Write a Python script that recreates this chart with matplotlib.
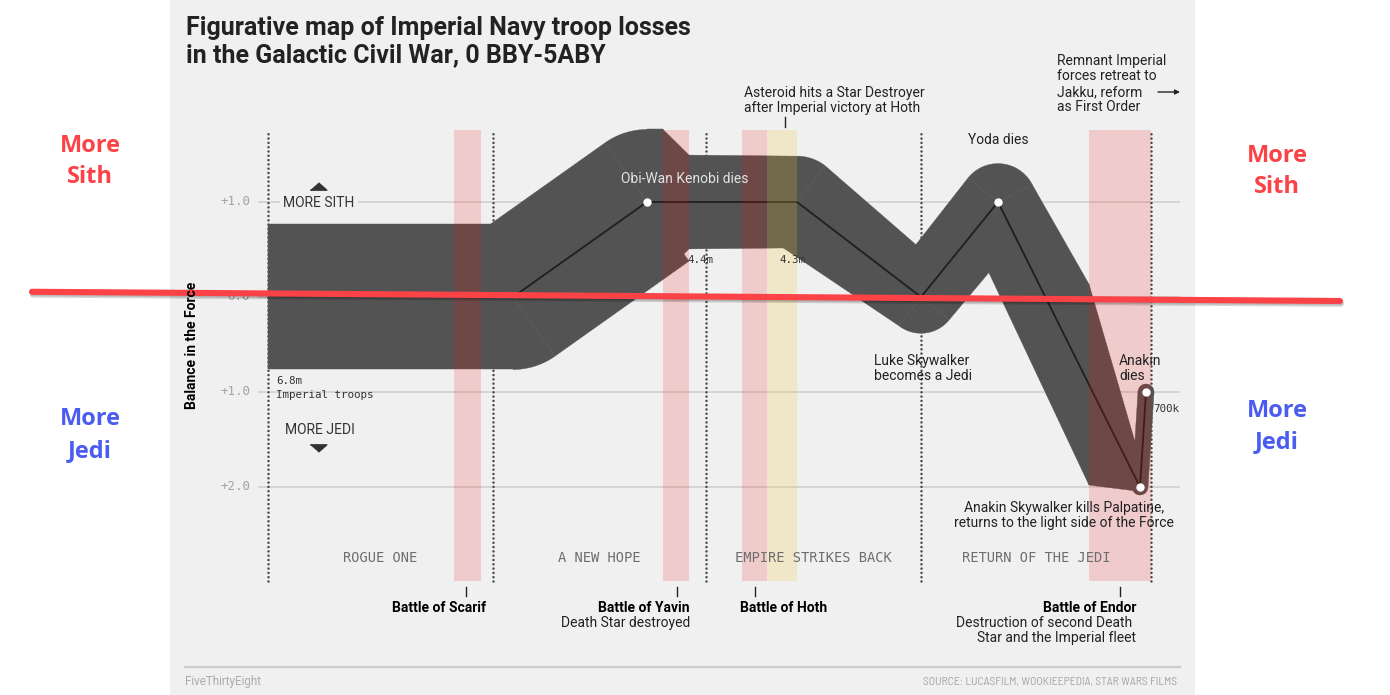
import numpy as np
import matplotlib
matplotlib.use("Agg")
import matplotlib.pyplot as plt
import matplotlib.patheffects as pe
from matplotlib.patches import Polygon
from matplotlib.transforms import Affine2D

# ------------------------------------------------------------------ data
films = ["ROGUE ONE", "A NEW HOPE", "EMPIRE STRIKES BACK", "RETURN OF THE JEDI"]
film_bounds = [0.0, 22.5, 43.8, 65.3, 88.3]          # story-time units

battle_names = ["Battle of Scarif", "Battle of Yavin", "Battle of Hoth", "Battle of Endor"]
battle_start = [18.6, 39.5, 47.4, 82.1]
battle_end = [21.3, 42.1, 49.9, 88.3]
battle_mark = [19.8, 40.9, 48.7, 85.2]
asteroid_span = [49.9, 52.9]

# path of the Imperial Navy (balance in the Force: + = more Sith)
path_x = [0.0, 24.5, 37.9, 39.5, 42.1, 52.9, 65.3, 73.0, 82.1, 87.2, 87.8]
path_y = [0.0, 0.0, 1.0, 1.0, 1.0, 1.0, 0.0, 1.0, -0.9225, -2.0, -1.0]
troops_m = [6.8, 6.8, 6.8, 6.8, 4.4, 4.3, 3.4, 3.6, 4.2, 0.75, 0.75]
event_idx = [2, 7, 9, 10]        # Obi-Wan, Yoda, Palpatine, Anakin

y_ticks = [1.0, 0.0, -1.0, -2.0]
y_tick_labels = ["+1.0", "0.0", "+1.0", "+2.0"]

red_line_x = [-23.6, 107.2]
red_line_y = [0.055, -0.042]

# ------------------------------------------------------------------ figure
W, H, DPI = 1390, 695, 100
plt.rcParams["font.family"] = ["Roboto", "DejaVu Sans"]
fig = plt.figure(figsize=(W / DPI, H / DPI), dpi=DPI, facecolor="white")
ax = fig.add_axes([0, 0, 1, 1])
X0, XS, Y0, YS = 268.0, 10.0, 297.0, 95.0           # pixel mapping of data
ax.set_xlim((0 - X0) / XS, (W - X0) / XS)
ax.set_ylim((Y0 - H) / YS, Y0 / YS)
ax.axis("off")

# pixel (from top-left) transform for free text
PX = Affine2D().scale(1.0 / W, -1.0 / H).translate(0, 1) + fig.transFigure


def dx(px):
    return (px - X0) / XS


def dy(py):
    return (Y0 - py) / YS


BG = "#f0f0f0"
ax.axvspan(dx(170), dx(1195), color=BG, zorder=0, lw=0)

top_y, bot_y = dy(130), dy(581)

# gridlines
ax.hlines(y_ticks, dx(258), dx(1180), color="#cdcdcd", lw=1.1, zorder=1)
for v, lab in zip(y_ticks, y_tick_labels):
    ax.text(dx(250), v, lab, ha="right", va="center", family="DejaVu Sans Mono",
            fontsize=9, color="#a3a3a3", zorder=2)

# dotted film boundaries
for b in film_bounds:
    ax.plot([b, b], [bot_y, top_y], color="#454545", lw=1.8, ls=(0, (0.01, 1.71)),
            dash_capstyle="round", zorder=2)

# ------------------------------------------------------------------ band
BAND = "#535353"
hw_scale = 72.5 / 6.8          # pixels of half width per million troops
fig.canvas.draw()
pts = ax.transData.transform(np.column_stack([path_x, path_y]))
hw = np.array(troops_m) * hw_scale * DPI / 100.0
npts = len(pts)


def unit(v):
    return v / np.hypot(*v)


def straight(i):
    if i == 0:
        return True
    if i == npts - 1:
        return False
    d1, d2 = unit(pts[i] - pts[i - 1]), unit(pts[i + 1] - pts[i])
    return abs(d1[0] * d2[1] - d1[1] * d2[0]) < 0.01


def corner(p, d, n, w, vertical):
    c = p + n * w
    if vertical and abs(d[0]) > 0.2:
        c = c + d * (-(n[0] * w) / d[0])
    return c


polys = []
for i in range(npts - 1):
    p, q = pts[i], pts[i + 1]
    d = unit(q - p)
    n = np.array([-d[1], d[0]])
    vs, ve = straight(i), straight(i + 1)
    polys.append([corner(p, d, n, hw[i], vs), corner(q, d, n, hw[i + 1], ve),
                  corner(q, d, -n, hw[i + 1], ve), corner(p, d, -n, hw[i], vs)])
for i in range(1, npts - 1):
    if straight(i):
        continue
    d1, d2 = unit(pts[i] - pts[i - 1]), unit(pts[i + 1] - pts[i])
    cr = d1[0] * d2[1] - d1[1] * d2[0]
    side = -1.0 if cr > 0 else 1.0
    n1 = side * np.array([-d1[1], d1[0]])
    n2 = side * np.array([-d2[1], d2[0]])
    a1, a2 = np.arctan2(n1[1], n1[0]), np.arctan2(n2[1], n2[0])
    da = (a2 - a1 + np.pi) % (2 * np.pi) - np.pi
    t = np.linspace(a1, a1 + da, 40)
    arc = pts[i] + hw[i] * np.column_stack([np.cos(t), np.sin(t)])
    polys.append(np.vstack([pts[i], arc]))
t = np.linspace(0, 2 * np.pi, 60)
polys.append(pts[-1] + hw[-1] * np.column_stack([np.cos(t), np.sin(t)]))
inv = ax.transData.inverted()
for pp in polys:
    ax.add_patch(Polygon(inv.transform(np.asarray(pp)), closed=True, fc=BAND,
                         ec=BAND, lw=0.3, zorder=3))

# centre line
ax.plot(path_x[1:], path_y[1:], color="#1f1f1f", lw=1.3, zorder=5,
        solid_joinstyle="miter")

# battle bars (semi transparent red) and asteroid bar
ax.bar(battle_start, top_y - bot_y, bottom=bot_y,
       width=np.array(battle_end) - np.array(battle_start), align="edge",
       color=(0.96, 0.06, 0.04), alpha=0.16, lw=0, zorder=6)
ax.bar([asteroid_span[0]], top_y - bot_y, bottom=bot_y,
       width=asteroid_span[1] - asteroid_span[0], align="edge",
       color=(0.94, 0.78, 0.16), alpha=0.2, lw=0, zorder=6)

ax.plot([path_x[i] for i in event_idx], [path_y[i] for i in event_idx], "o",
        color="white", ms=6, mew=0, zorder=8)

# ------------------------------------------------------------------ text
def T(px, py, s, **kw):
    kw.setdefault("color", "#222222")
    kw.setdefault("fontsize", 10)
    kw.setdefault("va", "baseline")
    return fig.text(px, py, s, transform=PX, **kw)


T(186, 35, "Figurative map of Imperial Navy troop losses", fontsize=18,
  fontweight="bold")
T(186, 62.3, "in the Galactic Civil War, 0 BBY-5ABY", fontsize=18,
  fontweight="bold")

T(744, 96.7, "Asteroid hits a Star Destroyer")
T(744, 111.7, "after Imperial victory at Hoth")
ax.plot([dx(784.5), dx(784.5)], [dy(117), dy(127)], color="#222", lw=1, zorder=9)

for k, line in enumerate(["Remnant Imperial", "forces retreat to",
                          "Jakku, reform", "as First Order"]):
    T(1057, 65 + 15.4 * k, line)
ax.annotate("", xy=(1180, 92), xytext=(1158, 92), xycoords=PX, textcoords=PX,
            arrowprops=dict(arrowstyle="-|>", color="#222", lw=1.0,
                            mutation_scale=7, shrinkA=0, shrinkB=0))

T(998, 144, "Yoda dies", ha="center")
T(621, 182.7, "Obi-Wan Kenobi dies", color="#e2e2e2", zorder=10)
T(874, 365, "Luke Skywalker")
T(874, 380, "becomes a Jedi")
T(1119, 365, "Anakin")
T(1119, 380, "dies")
T(1064, 511.7, "Anakin Skywalker kills Palpatine,", ha="center")
T(1064, 526.7, "returns to the light side of the Force", ha="center")

T(283, 207, "MORE SITH", color="#333333",
  bbox=dict(fc=BG, ec="none", pad=2.5))
T(285, 434, "MORE JEDI", color="#333333")
tri_up = [(-0.5, -0.22), (0.5, -0.22), (0, 0.22)]
tri_dn = [(-0.5, 0.22), (0.5, 0.22), (0, -0.22)]
ax.plot([dx(318)], [dy(186)], marker=tri_up, ms=12, color="#333", zorder=9)
ax.plot([dx(318)], [dy(448)], marker=tri_dn, ms=12, color="#333", zorder=9)

mono = dict(family="DejaVu Sans Mono", fontsize=7.8, color="#333333")
T(276, 384.3, "6.8m", **mono)
T(276, 397.7, "Imperial troops", **mono)
T(688, 262.7, "4.4m", **mono)
T(780, 262.7, "4.3m", **mono)
T(1153, 412, "700k", **mono)

fig.text(192, 345, "Balance in the Force", transform=PX, rotation=90,
         ha="center", va="center", fontsize=10, fontweight="bold", color="black")

# film titles
for i, f in enumerate(films):
    mid = 0.5 * (film_bounds[i] + film_bounds[i + 1])
    ax.text(mid, dy(561.7), f, ha="center", va="baseline", family="DejaVu Sans Mono",
            fontsize=9.9, color="#6e6e6e", zorder=9)

# battle ticks and labels
for m in battle_mark:
    ax.plot([m, m], [dy(587), dy(596)], color="#222", lw=1, zorder=9)
T(439, 611.7, "Battle of Scarif", ha="center", fontweight="bold", color="black")
T(690, 611.7, "Battle of Yavin", ha="right", fontweight="bold", color="black")
T(690, 626.7, "Death Star destroyed", ha="right")
T(740, 611.7, "Battle of Hoth", ha="left", fontweight="bold", color="black")
T(1136, 611.7, "Battle of Endor", ha="right", fontweight="bold", color="black")
T(1132, 626.7, "Destruction of second Death", ha="right")
T(1136, 641.7, "Star and the Imperial fleet", ha="right")

# footer
ax.plot([dx(185), dx(1180)], [dy(667), dy(667)], color="#cccccc", lw=1.6, zorder=2)
T(185.5, 685, "FiveThirtyEight", fontsize=8.4, color="#ababab")
T(1177, 685, "SOURCE: LUCASFILM, WOOKIEEPEDIA, STAR WARS FILMS", ha="right",
  fontsize=8.35, color="#a5a5a5", family=["Barlow Semi Condensed", "Roboto"])

# ------------------------------------------------------------------ overlay
RED, BLUE = "#fb4347", "#4b5cf0"
shadow = [pe.SimpleLineShadow(offset=(0.5, -2.0), shadow_color="black", alpha=0.16),
          pe.SimpleLineShadow(offset=(0.5, -1.0), shadow_color="black", alpha=0.12),
          pe.Normal()]
ax.plot(red_line_x, red_line_y, color=RED, lw=4.4, solid_capstyle="round",
        zorder=20, path_effects=shadow)

big = dict(fontsize=17, fontweight="bold", ha="center", family=["Open Sans", "DejaVu Sans"])
for cx, y1, y2 in [(90, 151.7, 183.3), (1277, 161.7, 193.3)]:
    T(cx, y1, "More", color=RED, **big)
    T(cx, y2, "Sith", color=RED, **big)
for cx, y1, y2 in [(90, 425, 456.7), (1277, 416.7, 448.3)]:
    T(cx, y1, "More", color=BLUE, **big)
    T(cx, y2, "Jedi", color=BLUE, **big)

fig.savefig("out.png", dpi=DPI, facecolor="white")
